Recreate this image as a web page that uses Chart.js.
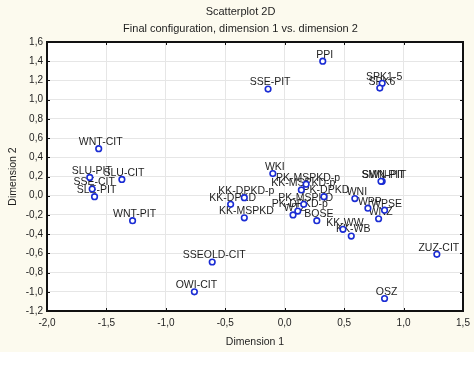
<!DOCTYPE html>
<html>
<head>
<meta charset="utf-8">
<script src="https://cdn.jsdelivr.net/npm/chart.js@4.4.1/dist/chart.umd.min.js"></script>
<style>
  html, body { margin: 0; padding: 0; background: #fff; }
</style>
</head>
<body>
<canvas id="chart" width="474" height="373"></canvas>
<script>
// objects and their coordinates in the 2D solution
const names = ['PPI', 'SPK1-5', 'SPK6', 'SSE-PIT', 'WNT-CIT', 'SLU-PIT', 'SLU-CIT', 'SSE-CIT', 'SLE-PIT', 'WNT-PIT',
    'WKI', 'PK-MSPKD-p', 'KK-MSPKD-p', 'PK-DPKD', 'PK-MSPKD', 'PK-DPKD-p', 'WTZ', 'BOSE',
    'KK-DPKD-p', 'KK-DPKD', 'KK-MSPKD', 'SWN-PIT', 'SMN-PIT', 'WNI', 'WPP', 'WPSE', 'WNZ',
    'KK-WW', 'KK-WB', 'ZUZ-CIT', 'SSEOLD-CIT', 'OWI-CIT', 'OSZ'];
const dim1 = [0.32, 0.82, 0.80, -0.14, -1.565, -1.64, -1.37, -1.62, -1.60, -1.28,
    -0.10, 0.18, 0.14, 0.33, 0.16, 0.11, 0.07, 0.27,
    -0.34, -0.455, -0.34, 0.82, 0.81, 0.59, 0.70, 0.84, 0.79,
    0.49, 0.56, 1.28, -0.61, -0.76, 0.84];
const dim2 = [1.40, 1.17, 1.12, 1.11, 0.49, 0.19, 0.17, 0.07, -0.01, -0.26,
    0.23, 0.12, 0.06, -0.01, -0.09, -0.16, -0.20, -0.26,
    -0.02, -0.09, -0.23, 0.15, 0.15, -0.03, -0.13, -0.15, -0.24,
    -0.35, -0.42, -0.61, -0.69, -1.00, -1.07];
const xTicks = [-2.0, -1.5, -1.0, -0.5, 0.0, 0.5, 1.0, 1.5];
const yTicks = [-1.2, -1.0, -0.8, -0.6, -0.4, -0.2, 0.0, 0.2, 0.4, 0.6, 0.8, 1.0, 1.2, 1.4, 1.6];

const FONT = '"Liberation Sans", Arial, sans-serif';
const TEXT = '#1e1e1e';
const comma = (v) => Number(v).toFixed(1).replace('.', ',');

const backdrop = {
    id: 'backdrop',
    beforeDraw(chart) {
        const { ctx, chartArea: a } = chart;
        ctx.save();
        ctx.fillStyle = '#ffffff';
        ctx.fillRect(0, 0, chart.width, chart.height);
        ctx.fillStyle = '#fcfaee';
        ctx.fillRect(0, 0, chart.width, 352);
        ctx.fillStyle = '#ffffff';
        ctx.fillRect(a.left, a.top, a.right - a.left, a.bottom - a.top);
        ctx.restore();
    }
};

// names sit just above each marker, markers are drawn over them
const pointNames = {
    id: 'pointNames',
    beforeDatasetsDraw(chart) {
        const { ctx } = chart;
        const meta = chart.getDatasetMeta(0);
        ctx.save();
        ctx.font = '10.5px ' + FONT;
        ctx.fillStyle = TEXT;
        ctx.textAlign = 'center';
        ctx.textBaseline = 'middle';
        meta.data.forEach((pt, i) => {
            ctx.fillText(names[i], pt.x + 2, pt.y - 6.5);
        });
        ctx.restore();
    }
};

// black frame with short inward ticks on all four sides
const frame = {
    id: 'frame',
    afterDraw(chart) {
        const { ctx, chartArea: a, scales } = chart;
        ctx.save();
        ctx.strokeStyle = '#111';
        ctx.lineWidth = 1;
        ctx.beginPath();
        scales.x.ticks.forEach((t) => {
            const px = Math.round(scales.x.getPixelForValue(t.value)) + 0.5;
            ctx.moveTo(px, a.top); ctx.lineTo(px, a.top + 3);
            ctx.moveTo(px, a.bottom); ctx.lineTo(px, a.bottom - 3);
        });
        scales.y.ticks.forEach((t) => {
            const py = Math.round(scales.y.getPixelForValue(t.value)) + 0.5;
            ctx.moveTo(a.left, py); ctx.lineTo(a.left + 3, py);
            ctx.moveTo(a.right, py); ctx.lineTo(a.right - 3, py);
        });
        ctx.stroke();
        ctx.lineWidth = 2;
        ctx.strokeRect(a.left, a.top, a.right - a.left, a.bottom - a.top);
        ctx.restore();
    }
};

new Chart(document.getElementById('chart').getContext('2d'), {
    type: 'scatter',
    data: {
        datasets: [{
            data: names.map((n, i) => ({ x: dim1[i], y: dim2[i] })),
            pointStyle: 'circle',
            pointRadius: 2.8,
            pointBorderWidth: 1.6,
            borderColor: '#1a2cd4',
            backgroundColor: '#ffffff',
            pointHoverRadius: 2.8
        }]
    },
    options: {
        responsive: false,
        animation: false,
        devicePixelRatio: 1,
        layout: { padding: { left: 7, right: 0, top: 0, bottom: 21 } },
        plugins: {
            legend: { display: false },
            tooltip: { enabled: false },
            title: {
                display: true,
                text: 'Scatterplot 2D',
                color: TEXT,
                font: { family: FONT, size: 11, weight: 'normal' },
                padding: { top: 5, bottom: 2 }
            },
            subtitle: {
                display: true,
                text: 'Final configuration, dimension 1 vs. dimension 2',
                color: TEXT,
                font: { family: FONT, size: 11, weight: 'normal' },
                padding: { top: 2, bottom: 6.6 }
            }
        },
        scales: {
            x: {
                type: 'linear',
                min: -2,
                max: 1.5,
                afterBuildTicks: (s) => { s.ticks = xTicks.map((v) => ({ value: v })); },
                afterFit: (s) => { s.height = 41; s.paddingRight = 11; },
                grid: { color: '#e6e6e6', drawTicks: false },
                border: { display: false },
                ticks: {
                    padding: 6,
                    color: TEXT,
                    maxRotation: 0,
                    font: { family: FONT, size: 10 },
                    callback: (v) => comma(v)
                },
                title: {
                    display: true,
                    text: 'Dimension 1',
                    color: TEXT,
                    font: { family: FONT, size: 10.5 },
                    padding: { top: 0, bottom: 4 }
                }
            },
            y: {
                type: 'linear',
                min: -1.2,
                max: 1.6,
                afterBuildTicks: (s) => { s.ticks = yTicks.map((v) => ({ value: v })); },
                afterFit: (s) => { s.width = 40; },
                grid: { color: '#e6e6e6', drawTicks: false },
                border: { display: false },
                ticks: {
                    padding: 4,
                    color: TEXT,
                    font: { family: FONT, size: 10 },
                    callback: (v) => comma(v)
                },
                title: {
                    display: true,
                    text: 'Dimension 2',
                    color: TEXT,
                    font: { family: FONT, size: 10.5 },
                    padding: { top: 0, bottom: 0 }
                }
            }
        }
    },
    plugins: [backdrop, pointNames, frame]
});
</script>
</body>
</html>
